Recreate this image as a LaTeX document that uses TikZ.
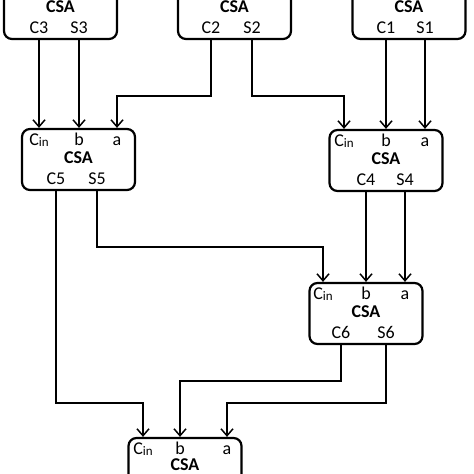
\documentclass[tikz,border=0pt]{standalone}
\usepackage{fontspec}
\setmainfont{Carlito}
\usetikzlibrary{arrows.meta}
\newcommand{\cinlabel}{C\raisebox{-1.5pt}{\fontsize{13}{13}\selectfont in}}
\begin{document}
\begin{tikzpicture}[x=1pt,y=-1pt,
  csabox/.style={draw, line width=2.2pt, rounded corners=8pt, minimum width=113pt, minimum height=61pt, inner sep=0pt},
  lbl/.style={font=\fontsize{18}{18}\selectfont, inner sep=0pt, anchor=base},
  ttl/.style={font=\fontsize{18}{18}\selectfont\bfseries, inner sep=0pt, anchor=base},
  wire/.style={line width=1.5pt, -{Straight Barb[length=7pt,width=12pt]}},
]
\useasboundingbox (0,0) rectangle (474,474);
\clip (0,0) rectangle (474,474);

% top row
\node[csabox] (b1) at (60.5,8.5) {};
\node[ttl] (t1) at (60.5,12) {CSA};
\node[lbl] (c3) at (39,33) {C3};
\node[lbl] (s3) at (79,33) {S3};

\node[csabox] (b2) at (234.5,8.5) {};
\node[ttl] (t2) at (234.5,12) {CSA};
\node[lbl] (c2) at (211,33) {C2};
\node[lbl] (s2) at (252,33) {S2};

\node[csabox] (b3) at (409,8.5) {};
\node[ttl] (t3) at (409,12) {CSA};
\node[lbl] (c1) at (386,33) {C1};
\node[lbl] (s1) at (425,33) {S1};

% second row left
\node[csabox] (b5) at (78.5,159.5) {};
\node[lbl] (cin5) at (39,145) {\cinlabel};
\node[lbl] (bb5) at (79,145) {b};
\node[lbl] (a5) at (117,145) {a};
\node[ttl] (t5) at (78.5,163) {CSA};
\node[lbl] (c5) at (56,184) {C5};
\node[lbl] (s5) at (97,184) {S5};

% second row right
\node[csabox] (b4) at (386,160.5) {};
\node[lbl] (cin4) at (344,146) {\cinlabel};
\node[lbl] (bb4) at (386,146) {b};
\node[lbl] (a4) at (425,146) {a};
\node[ttl] (t4) at (386,164) {CSA};
\node[lbl] (c4) at (366,185) {C4};
\node[lbl] (s4) at (405,185) {S4};

% third row
\node[csabox] (b6) at (366,313.5) {};
\node[lbl] (cin6) at (323,299) {\cinlabel};
\node[lbl] (bb6) at (366,299) {b};
\node[lbl] (a6) at (405,299) {a};
\node[ttl] (t6) at (366,317) {CSA};
\node[lbl] (c6) at (341,338) {C6};
\node[lbl] (s6) at (386,338) {S6};

% bottom
\node[csabox] (b7) at (185,468.5) {};
\node[lbl] (cin7) at (143,454) {\cinlabel};
\node[lbl] (bb7) at (180,454) {b};
\node[lbl] (a7) at (227,454) {a};
\node[ttl] (t7) at (185,470.5) {CSA};

% wires
\draw[wire] (b1.south -| c3) -- (b5.north -| cin5);
\draw[wire] (b1.south -| s3) -- (b5.north -| bb5);
\draw[wire] (b2.south -| c2) -- ++(0,56) -| (b5.north -| a5);
\draw[wire] (b2.south -| s2) -- ++(0,56) -| (b4.north -| cin4);
\draw[wire] (b3.south -| c1) -- (b4.north -| bb4);
\draw[wire] (b3.south -| s1) -- (b4.north -| a4);
\draw[wire] (b4.south -| c4) -- (b6.north -| bb6);
\draw[wire] (b4.south -| s4) -- (b6.north -| a6);
\draw[wire] (b5.south -| s5) -- ++(0,56) -| (b6.north -| cin6);
\draw[wire] (b5.south -| c5) -- ++(0,212) -| (b7.north -| cin7);
\draw[wire] (b6.south -| c6) -- ++(0,36) -| (b7.north -| bb7);
\draw[wire] (b6.south -| s6) -- ++(0,58) -| (b7.north -| a7);
\end{tikzpicture}
\end{document}
